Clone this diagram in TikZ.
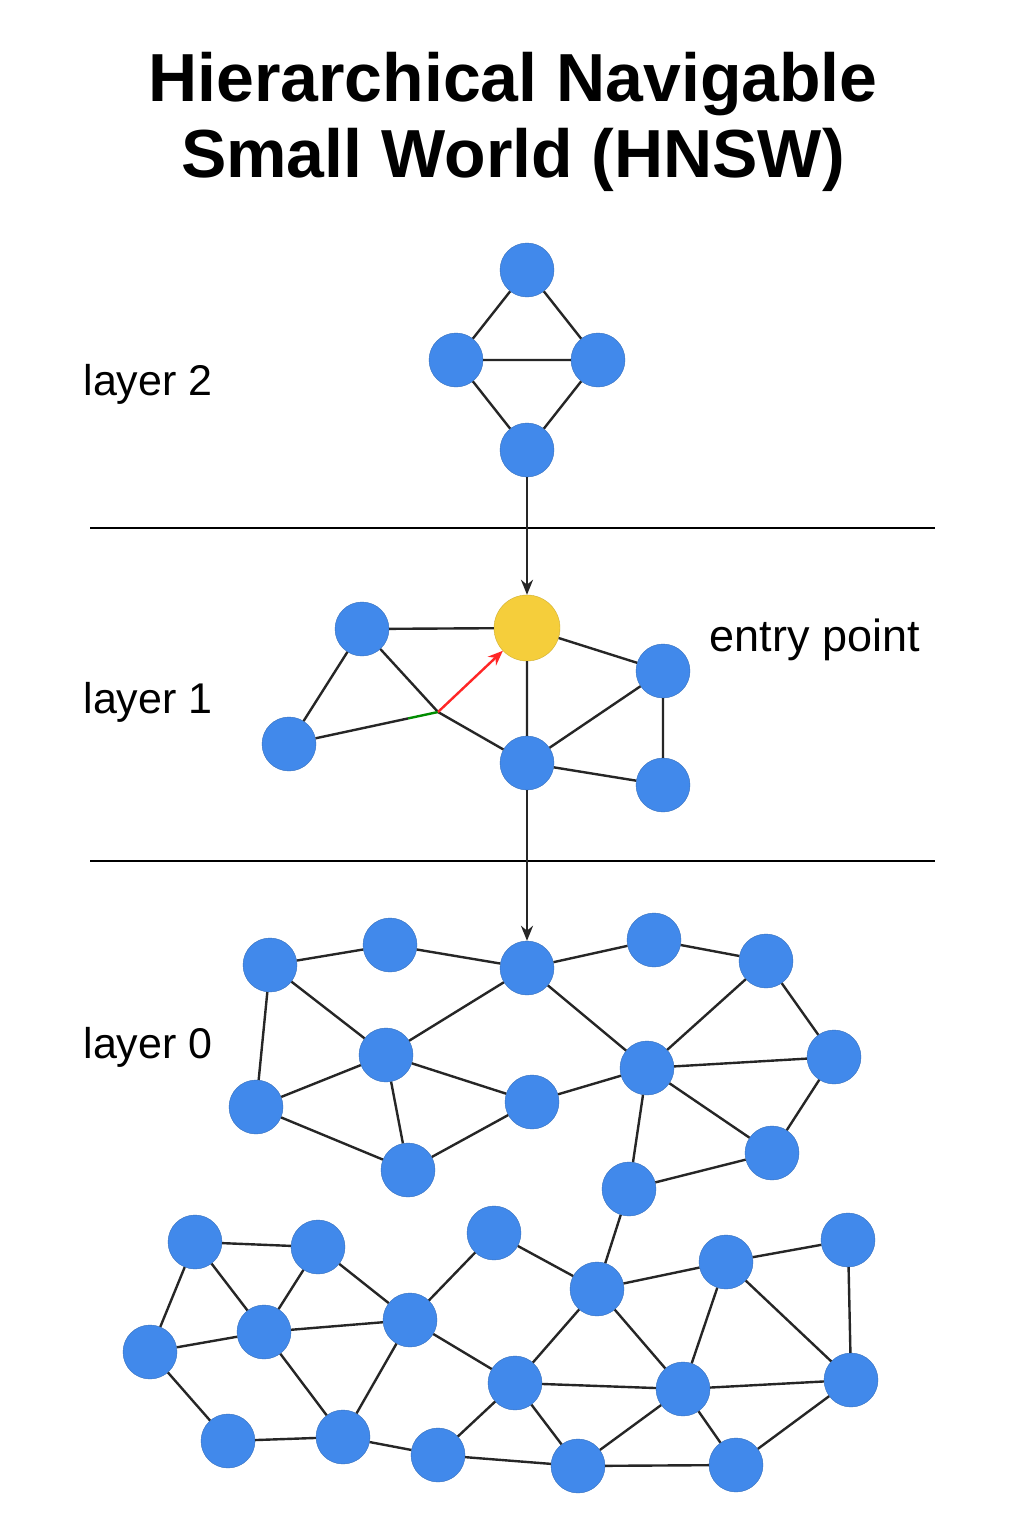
\documentclass[tikz,border=0pt]{standalone}
\usepackage{fontspec}
\setmainfont{Liberation Sans}
\usetikzlibrary{arrows.meta,calc}
\definecolor{nb}{HTML}{4189EB}
\definecolor{ny}{HTML}{F5CE3B}
\tikzset{v/.style={circle,fill=nb,draw=nb!80!black,line width=0.4pt,minimum size=54pt,inner sep=0pt},
yv/.style={v,fill=ny,draw=ny!85!black,minimum size=66pt},
e/.style={line width=2.4pt,black!85},
lab/.style={font=\fontsize{43}{50}\selectfont,anchor=west},
arr/.style={e,-{Stealth[length=15pt,width=12pt]}}}
\begin{document}
\begin{tikzpicture}[x=1pt,y=-1pt]
\useasboundingbox[fill=white] (0,0) rectangle (1024,1536);
\node[font=\bfseries\fontsize{68}{76}\selectfont,align=center] (t) at (513,122) {Hierarchical Navigable\\Small World (HNSW)};
\node[lab] (l2) at (80,384) {layer 2};
\node[lab] (l1) at (80,702) {layer 1};
\node[lab] (l0) at (80,1047) {layer 0};
\node[lab,font=\fontsize{45}{50}\selectfont] (ep) at (706,640) {entry point};
\coordinate (s1a) at (90,528); \coordinate (s1b) at (935,528);
\coordinate (s2a) at (90,861); \coordinate (s2b) at (935,861);
\draw[line width=1.8pt] (s1a)--(s1b) (s2a)--(s2b);
% layer 2
\foreach \n/\x/\y in {a/527/270,b/456/360,c/598/360,d/527/450}{\node[v] (\n) at (\x,\y) {};}
\draw[e] (a)--(b) (a)--(c) (b)--(c) (b)--(d) (c)--(d);
% layer 1
\node[yv] (E) at (527,628) {};
\foreach \n/\x/\y in {f/362/629,g/289/744,h/527/763,i/663/671,j/663/785}{\node[v] (\n) at (\x,\y) {};}
\coordinate (q) at (438,712);
\draw[e] (f)--(E) (f)--(g) (f)--(q)--(h) (E)--(i) (E)--(h) (i)--(h) (i)--(j) (h)--(j);
\draw[e] (g)--($(g)!0.8!(q)$);
\draw[line width=2.4pt,green!55!black] ($(g)!0.8!(q)$)--(q);
\draw[line width=2.4pt,red!85!white,-{Stealth[length=15pt,width=12pt]}] (q)--(E);
\draw[arr] (d)--(E);
% layer 0 top
\foreach \n/\x/\y in {k/527/968,n1/270/965,n2/390/945,n3/654/940,n4/766/961,n5/386/1055,n6/256/1107,n7/532/1102,n8/647/1068,n9/834/1057,n10/408/1170,n11/772/1153,n12/629/1189}{\node[v] (\n) at (\x,\y) {};}
\draw[arr] (h)--(k);
\draw[e] (n1)--(n2) (n2)--(k) (k)--(n3) (n3)--(n4) (n1)--(n6) (n1)--(n5) (k)--(n5) (k)--(n8) (n4)--(n8) (n4)--(n9) (n5)--(n6) (n5)--(n7) (n5)--(n10) (n6)--(n10) (n10)--(n7) (n7)--(n8) (n8)--(n9) (n8)--(n11) (n9)--(n11) (n8)--(n12) (n12)--(n11);
% bottom
\foreach \n/\x/\y in {p1/195/1242,p2/318/1247,p3/494/1233,p4/848/1240,p5/726/1262,m/597/1289,p6/264/1332,p7/410/1320,p8/150/1352,p9/515/1383,p10/683/1389,p11/851/1380,p12/228/1441,p13/343/1437,p14/438/1455,p15/578/1466,p16/736/1465}{\node[v] (\n) at (\x,\y) {};}
\draw[e] (n12)--(m) (p1)--(p2) (p1)--(p8) (p1)--(p6) (p2)--(p6) (p2)--(p7) (p6)--(p8) (p6)--(p7) (p6)--(p13) (p8)--(p12) (p12)--(p13) (p7)--(p13) (p7)--(p3) (p7)--(p9) (p3)--(m) (m)--(p5) (p5)--(p4) (p4)--(p11) (p5)--(p10) (p5)--(p11) (m)--(p9) (m)--(p10) (p9)--(p10) (p10)--(p11) (p9)--(p14) (p9)--(p15) (p13)--(p14) (p14)--(p15) (p15)--(p10) (p15)--(p16) (p16)--(p11) (p10)--(p16);
\end{tikzpicture}
\end{document}
